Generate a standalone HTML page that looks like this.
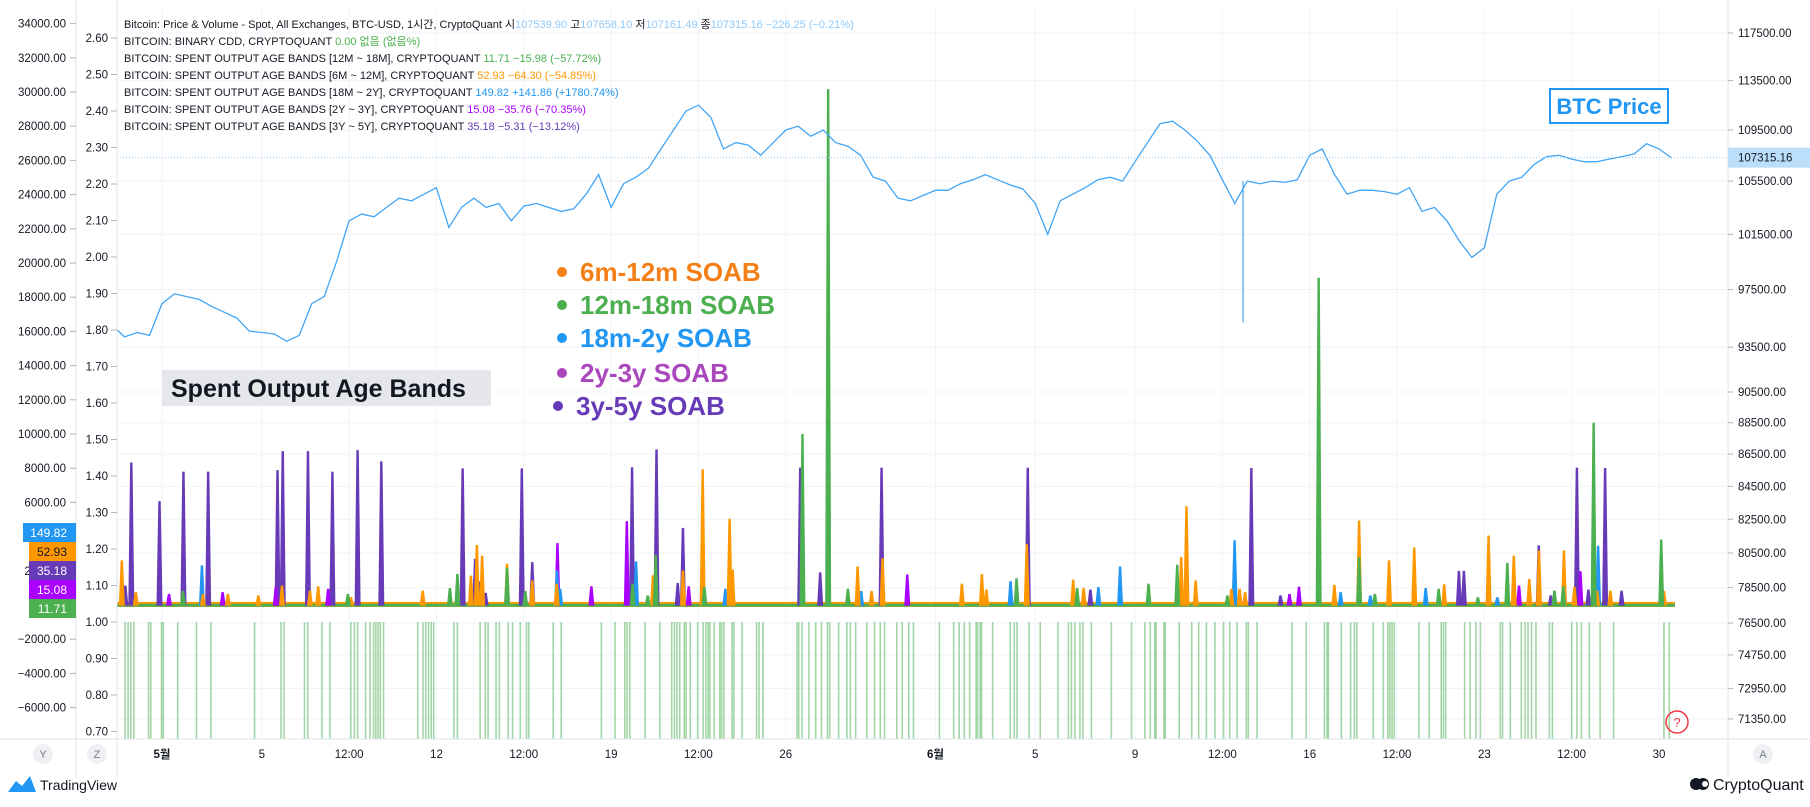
<!DOCTYPE html>
<html><head><meta charset="utf-8"><style>
html,body{margin:0;padding:0;background:#fff;}
body{width:1810px;height:802px;overflow:hidden;font-family:"Liberation Sans","Noto Sans CJK KR",sans-serif;}
svg text{font-family:"Liberation Sans","Noto Sans CJK KR",sans-serif;}
</style></head><body>
<svg id="chart" width="1810" height="802" viewBox="0 0 1810 802" xmlns="http://www.w3.org/2000/svg">
<g id="grid"></g>
<g id="marks"></g>
<g id="axes"></g>
<g font-size="11" fill="#131722">
<text x="124" y="28">Bitcoin: Price &amp; Volume - Spot, All Exchanges, BTC-USD, 1시간, CryptoQuant  <tspan>시</tspan><tspan fill="#90caf9">107539.90</tspan> 고<tspan fill="#90caf9">107658.10</tspan> 저<tspan fill="#90caf9">107161.49</tspan> 종<tspan fill="#90caf9">107315.16</tspan> <tspan fill="#90caf9">−226.25 (−0.21%)</tspan></text>
<text x="124" y="45">BITCOIN: BINARY CDD, CRYPTOQUANT  <tspan fill="#4caf50">0.00  없음 (없음%)</tspan></text>
<text x="124" y="62">BITCOIN: SPENT OUTPUT AGE BANDS [12M ~ 18M], CRYPTOQUANT  <tspan fill="#4caf50">11.71  −15.98 (−57.72%)</tspan></text>
<text x="124" y="79">BITCOIN: SPENT OUTPUT AGE BANDS [6M ~ 12M], CRYPTOQUANT  <tspan fill="#ff9800">52.93  −64.30 (−54.85%)</tspan></text>
<text x="124" y="96">BITCOIN: SPENT OUTPUT AGE BANDS [18M ~ 2Y], CRYPTOQUANT  <tspan fill="#2196f3">149.82  +141.86 (+1780.74%)</tspan></text>
<text x="124" y="113">BITCOIN: SPENT OUTPUT AGE BANDS [2Y ~ 3Y], CRYPTOQUANT  <tspan fill="#aa00ff">15.08  −35.76 (−70.35%)</tspan></text>
<text x="124" y="130">BITCOIN: SPENT OUTPUT AGE BANDS [3Y ~ 5Y], CRYPTOQUANT  <tspan fill="#673ab7">35.18  −5.31 (−13.12%)</tspan></text>
</g>
<g>
<rect x="162" y="370" width="329" height="36" fill="#e6e7eb"/>
<text x="171" y="397" font-size="25" font-weight="bold" fill="#131722">Spent Output Age Bands</text>
</g>
<g font-size="26" font-weight="bold">
<circle cx="562" cy="272" r="5" fill="#f57f17"/><text x="580" y="281" fill="#f57f17">6m-12m SOAB</text>
<circle cx="562" cy="305" r="5" fill="#4caf50"/><text x="580" y="314" fill="#4caf50">12m-18m SOAB</text>
<circle cx="562" cy="338" r="5" fill="#2196f3"/><text x="580" y="347" fill="#2196f3">18m-2y SOAB</text>
<circle cx="562" cy="373" r="5" fill="#ab47bc"/><text x="580" y="382" fill="#ab47bc">2y-3y SOAB</text>
<circle cx="558" cy="406" r="5" fill="#673ab7"/><text x="576" y="415" fill="#673ab7">3y-5y SOAB</text>
</g>
<g>
<rect x="1550" y="89" width="118" height="34" fill="#fff" stroke="#2196f3" stroke-width="2"/>
<text x="1609" y="114" text-anchor="middle" font-size="22" font-weight="bold" fill="#2196f3">BTC Price</text>
</g>
<g>
<g>
<path d="M8 792 L16 781 L22 786 L30 776 L36 792 Z" fill="#2196f3"/>
<text x="40" y="790" font-size="14" fill="#131722">TradingView</text>
</g>
<g>
<circle cx="1696" cy="784" r="6" fill="#131722"/><circle cx="1703" cy="784" r="6" fill="#131722"/><circle cx="1705" cy="784" r="3" fill="#fff"/>
<text x="1713" y="790" font-size="16" fill="#131722">CryptoQuant</text>
</g>
<g><circle cx="43" cy="754" r="10" fill="#eef0f3"/><text x="43" y="758" text-anchor="middle" font-size="11" fill="#787b86">Y</text></g>
<g><circle cx="97" cy="754" r="10" fill="#eef0f3"/><text x="97" y="758" text-anchor="middle" font-size="11" fill="#787b86">Z</text></g>
<g><circle cx="1763" cy="754" r="10" fill="#eef0f3"/><text x="1763" y="758" text-anchor="middle" font-size="11" fill="#787b86">A</text></g>
<g><circle cx="1677" cy="722" r="11" fill="none" stroke="#f23645" stroke-width="1.5"/><text x="1677" y="727" text-anchor="middle" font-size="13" fill="#f23645">?</text></g>
</g>
</svg>
<script>
// ---- data ----
const priceStartDay = -2;            // Apr 29 00:00 relative to May 1
const priceStepDay = 0.5;
const priceK = [95.0,94.2,94.5,94.3,96.5,97.2,97.0,96.8,96.3,95.9,95.5,94.6,94.5,94.4,93.9,94.3,96.5,97.0,99.5,102.5,
103.0,102.8,103.5,104.2,104.0,104.5,105.0,102.0,103.5,104.2,103.5,103.8,102.5,103.6,103.8,103.5,103.2,103.4,104.5,106.0,
103.5,105.3,105.8,106.5,108.0,109.5,111.0,111.5,110.5,108.0,108.5,108.3,107.5,108.5,109.5,109.8,109.0,109.5,108.5,108.2,
107.5,105.8,105.5,104.2,104.0,104.4,104.8,104.8,105.3,105.6,106.0,105.6,105.2,104.9,103.8,101.5,104.0,104.5,105.0,105.6,
105.8,105.5,107.0,108.5,110.0,110.2,109.5,108.6,107.5,105.6,103.8,105.5,105.3,105.5,105.4,105.6,107.5,108.0,106.0,104.5,
104.8,104.8,104.7,104.5,105.0,103.2,103.5,102.5,101.0,99.8,100.5,104.5,105.5,105.8,106.8,107.4,107.5,107.2,107.0,107.0,
107.2,107.4,107.6,108.4,108.0,107.3];
const wickDays = [43.33];
const wickLowsK = [95.2];
const lastPrice = 107315.16;

const purpleDays = [-1.47,-1.23,-0.10,0.86,1.85,4.63,4.84,5.85,6.83,7.84,8.79,12.05,12.55,12.72,12.97,14.42,14.84,18.84,19.82,20.67,20.88,25.58,26.38,28.84,34.70,37.21,43.66,44.83,51.98,52.18,55.18,55.66,56.71,57.17,57.84,58.50];
const purpleVals = [1.10,1.437,1.331,1.412,1.412,1.416,1.468,1.468,1.412,1.471,1.44,1.421,1.173,1.111,1.08,1.421,1.164,1.424,1.473,1.107,1.258,1.423,1.136,1.423,1.423,1.089,1.422,1.073,1.14,1.14,1.21,1.073,1.423,1.089,1.422,1.086];
const magentaDays = [0.28,2.43,4.56,6.66,15.85,17.21,18.63,21.11,29.87,45.19,45.57,54.39,56.85];
const magentaVals = [1.077,1.082,1.096,1.091,1.216,1.098,1.276,1.098,1.13,1.077,1.097,1.10,1.139];
const blueDays = [1.60,15.83,15.96,19.0,22.58,28.02,34.01,37.53,38.40,42.99,47.24,48.43,50.65,53.52,57.56];
const blueVals = [1.155,1.141,1.091,1.166,1.091,1.085,1.112,1.096,1.152,1.224,1.082,1.073,1.093,1.068,1.209];
const orangeDays = [-1.61,-1.05,1.64,2.64,3.86,4.81,5.93,6.26,7.57,10.45,12.38,12.62,12.83,13.83,14.84,15.82,19.68,20.88,21.67,22.75,22.87,27.88,28.44,28.88,32.06,32.86,33.04,34.66,36.52,36.94,40.85,41.06,41.43,42.86,43.19,43.41,46.99,47.98,49.18,50.19,51.39,53.17,54.18,54.80,55.19,56.19,56.61,57.52,58.05,60.20];
const orangeVals = [1.169,1.082,1.077,1.077,1.073,1.10,1.086,1.098,1.068,1.086,1.127,1.211,1.182,1.16,1.114,1.105,1.128,1.141,1.418,1.283,1.144,1.152,1.085,1.175,1.105,1.131,1.089,1.213,1.116,1.093,1.178,1.317,1.114,1.091,1.091,1.082,1.102,1.278,1.169,1.204,1.103,1.237,1.182,1.118,1.196,1.196,1.096,1.086,1.086,1.085];
const greenDays = [0.84,7.45,11.54,11.84,13.83,14.56,18.86,19.47,19.79,21.74,25.67,26.70,27.49,34.25,36.68,39.54,40.69,42.70,46.36,47.98,48.61,51.17,52.74,53.92,55.81,56.16,57.38,60.09];
const greenVals = [1.086,1.077,1.093,1.132,1.149,1.085,1.105,1.073,1.184,1.096,1.515,2.46,1.091,1.12,1.093,1.105,1.157,1.073,1.943,1.178,1.077,1.091,1.068,1.162,1.086,1.098,1.546,1.226];
const cddDays = [-1.48,-1.36,-1.25,-1.13,-0.54,-0.45,-0.02,0.05,0.63,1.38,1.96,3.71,4.77,4.89,5.71,5.84,6.41,6.73,7.57,7.71,7.84,8.16,8.34,8.48,8.57,8.66,8.75,8.88,10.25,10.46,10.57,10.68,10.79,10.89,11.70,11.84,12.75,12.96,13.07,13.39,13.52,13.88,14.05,14.36,14.61,14.70,15.68,16.0,17.61,18.16,18.55,18.64,18.75,19.36,19.95,20.43,20.54,20.64,20.75,
20.93,21.01,21.17,21.47,21.69,21.8,21.89,21.96,22.13,22.36,22.43,22.52,22.85,22.92,23.25,23.83,23.93,24.09,25.45,25.52,25.65,25.93,26.2,26.43,26.67,26.76,27.12,27.45,27.59,27.8,28.25,28.56,28.79,28.96,29.45,29.67,29.93,30.12,31.16,31.73,31.95,32.16,32.37,32.63,32.69,32.79,32.85,33.29,34.0,34.16,34.27,34.75,35.2,35.91,36.33,36.45,36.59,36.79,36.91,37.25,
38.05,38.86,39.39,39.61,39.79,39.84,40.16,40.21,40.77,41.27,41.55,41.86,42.2,42.55,42.8,43.09,43.46,43.54,43.89,45.29,45.86,46.59,46.70,46.75,47.27,47.64,47.79,47.89,48.55,48.95,49.13,49.21,49.30,49.39,50.38,50.79,51.27,51.36,51.45,52.21,52.43,52.66,52.84,53.64,53.73,54.04,54.48,54.63,54.75,54.89,55.07,55.61,55.73,56.5,56.71,56.89,57.21,57.64,58.18,60.2,60.41];
const cddVals = cddDays.map(() => 1);

const xTickDays = [0,4,7.5,11,14.5,18,21.5,25,31,35,39,42.5,46,49.5,53,56.5,60];
const xTickLabels = ["5월","5","12:00","12","12:00","19","12:00","26","6월","5","9","12:00","16","12:00","23","12:00","30"];
const priceTicks = [117500,113500,109500,105500,101500,97500,93500,90500,88500,86500,84500,82500,80500,78500,76500,74750,72950,71350];
const leftTicks = [34000,32000,30000,28000,26000,24000,22000,20000,18000,16000,14000,12000,10000,8000,6000,4000,2000,0,-2000,-4000,-6000];
const midTicks = [2.6,2.5,2.4,2.3,2.2,2.1,2.0,1.9,1.8,1.7,1.6,1.5,1.4,1.3,1.2,1.1,1.0,0.9,0.8,0.7];

// ---- scales ----
const PL = 117, PR = 1728, PT = 8, PB = 739;
const xDay = d => 162 + d * 24.95;
const yPrice = p => 33 + Math.log(117500 / p) * 1375;
const yMid = v => 622 - (v - 1) * 365;
const yLeft = v => 605 - v / 2000 * 34.2;
const NS = "http://www.w3.org/2000/svg";
function mk(tag, attrs, parent) { const e = document.createElementNS(NS, tag); for (const k in attrs) e.setAttribute(k, attrs[k]); parent.appendChild(e); return e; }
const grid = document.getElementById('grid'), marks = document.getElementById('marks'), axes = document.getElementById('axes');

// grid
priceTicks.forEach(t => { const g = mk('line', {x1: PL, x2: PR, y1: yPrice(t), y2: yPrice(t), stroke: '#f0f3fa', 'stroke-width': 1}, grid);

 });
xTickDays.forEach(d => { const g = mk('line', {x1: xDay(d), x2: xDay(d), y1: PT, y2: PB, stroke: '#f0f3fa', 'stroke-width': 1}, grid);

 });

// clip
const defs = mk('defs', {}, marks);
const cp = mk('clipPath', {id: 'clip'}, defs); mk('rect', {x: PL, y: PT, width: PR - PL, height: PB - PT}, cp);
const plot = mk('g', {'clip-path': 'url(#clip)'}, marks);

// binary CDD bars
cddDays.forEach((d, i) => { const b = mk('line', {x1: xDay(d), x2: xDay(d), y1: yMid(cddVals[i]), y2: PB, stroke: '#66bb6a', 'stroke-opacity': 0.6, 'stroke-width': 1.6}, plot);

 });

// baseline band
const base = mk('rect', {x: PL, y: yMid(1.055), width: 1675 - PL, height: 5, fill: '#ff9800'}, plot);


mk('rect', {x: PL, y: yMid(1.05), width: 1675 - PL, height: 3, fill: '#4caf50'}, plot);

function spikes(days, vals, color, name) {
  days.forEach((d, i) => {
    const x = xDay(d), y0 = yMid(1.045), y1 = yMid(vals[i]);
    const p = mk('polygon', {points: `${x-3},${y0} ${x-1.2},${y1} ${x+1.2},${y1} ${x+3},${y0}`, fill: color}, plot);
    
    
  });
}
spikes(purpleDays, purpleVals, '#673ab7', 'soab-3y-5y-spike');
spikes(magentaDays, magentaVals, '#aa00ff', 'soab-2y-3y-spike');
spikes(blueDays, blueVals, '#2196f3', 'soab-18m-2y-spike');
spikes(orangeDays, orangeVals, '#ff9800', 'soab-6m-12m-spike');
spikes(greenDays, greenVals, '#4caf50', 'soab-12m-18m-spike');

// price line
const pts = priceK.map((p, i) => `${xDay(priceStartDay + i * priceStepDay).toFixed(1)},${yPrice(p * 1000).toFixed(1)}`);
const pl = mk('polyline', {points: pts.join(' '), fill: 'none', stroke: '#42a5f5', 'stroke-width': 1.3}, plot);


wickDays.forEach((d, i) => { const idx = Math.round((d - priceStartDay) / priceStepDay);
  const w = mk('line', {x1: xDay(d), x2: xDay(d), y1: yPrice(priceK[idx] * 1000), y2: yPrice(wickLowsK[i] * 1000), stroke: '#42a5f5', 'stroke-width': 1.2}, plot);
  
   });
const dl = mk('line', {x1: PL, x2: PR, y1: yPrice(lastPrice), y2: yPrice(lastPrice), stroke: '#90caf9', 'stroke-dasharray': '1 2', 'stroke-width': 1}, marks);



// axis frame
[[76, 0, 76, 778], [PL, 0, PL, 778], [PR, 0, PR, 778], [0, PB, 1810, PB]].forEach(l => mk('line', {x1: l[0], y1: l[1], x2: l[2], y2: l[3], stroke: '#e0e3eb', 'stroke-width': 1}, axes));

// left axis
leftTicks.forEach(t => { const y = yLeft(t);
  const tx = mk('text', {x: 66, y: y + 4, 'text-anchor': 'end', 'font-size': 11.5, fill: '#131722'}, axes); tx.textContent = t.toFixed(2).replace('-', '−');
  
  
  mk('line', {x1: 70, x2: 76, y1: y, y2: y, stroke: '#b2b5be'}, axes); });
// mid axis
midTicks.forEach(t => { const y = yMid(t);
  const tx = mk('text', {x: 108, y: y + 4, 'text-anchor': 'end', 'font-size': 11.5, fill: '#131722'}, axes); tx.textContent = t.toFixed(2);
  
  
  mk('line', {x1: 111, x2: PL, y1: y, y2: y, stroke: '#b2b5be'}, axes); });
// right axis
priceTicks.forEach(t => { const y = yPrice(t);
  const tx = mk('text', {x: 1738, y: y + 4, 'font-size': 11.5, fill: '#131722'}, axes); tx.textContent = t.toFixed(2);
  
  
  mk('line', {x1: PR, x2: PR + 5, y1: y, y2: y, stroke: '#b2b5be'}, axes); });
// x axis
xTickDays.forEach((d, i) => { const tx = mk('text', {x: xDay(d), y: 758, 'text-anchor': 'middle', 'font-size': 11.5, fill: '#131722', 'font-weight': xTickLabels[i].includes('월') ? 'bold' : 'normal'}, axes);
  tx.textContent = xTickLabels[i];
  
   });

// badges
const badgeVals = ["149.82","52.93","35.18","15.08","11.71"];
const badgeCols = ["#2196f3","#ff9800","#673ab7","#aa00ff","#4caf50"];
const badgeText = ["#fff","#131722","#fff","#fff","#fff"];
badgeVals.forEach((v, i) => { const y = 523 + i * 19;
  const r = mk('rect', {x: i === 0 ? 23 : 29, y: y, width: i === 0 ? 53 : 47, height: 19, fill: badgeCols[i]}, axes);
  
  
  const t = mk('text', {x: 67, y: y + 14, 'text-anchor': 'end', 'font-size': 12, fill: badgeText[i]}, axes); t.textContent = v; });
const pb = mk('rect', {x: PR, y: yPrice(lastPrice) - 10, width: 82, height: 20, fill: '#bbdefb'}, axes);


const pt = mk('text', {x: 1738, y: yPrice(lastPrice) + 4, 'font-size': 11.5, fill: '#131722'}, axes); pt.textContent = lastPrice.toFixed(2);
</script>
</body></html>
